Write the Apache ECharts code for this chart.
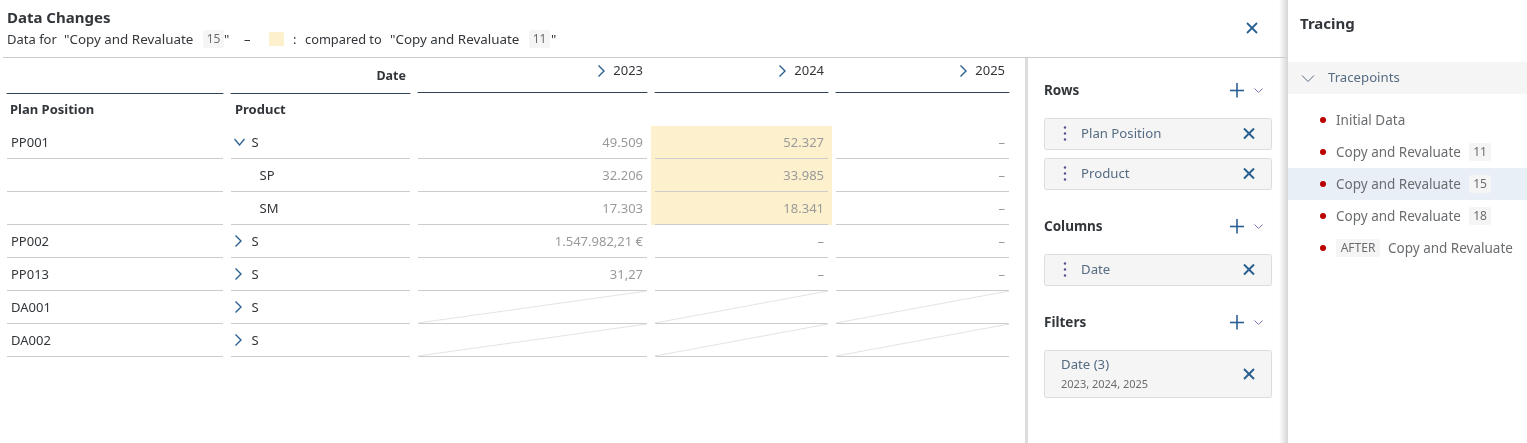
<!DOCTYPE html>
<html>
<head>
<meta charset="utf-8">
<style>
    html, body { margin: 0; padding: 0; background: #fff; }
    #chart { width: 1527px; height: 443px; }
</style>
<script src="https://cdn.jsdelivr.net/npm/echarts@6/dist/echarts.min.js"></script>
</head>
<body>
<div id="chart"></div>
<script>
// Table content
const rowIds = ["r1", "r2", "r3", "r4", "r5", "r6", "r7"];
const columnTitles = ["Plan Position", "Product", "2023", "2024", "2025"];
const planPositions = ["PP001", "", "", "PP002", "PP013", "DA001", "DA002"];
const products = ["S", "SP", "SM", "S", "S", "S", "S"];
const expandStates = ["open", "", "", "closed", "closed", "closed", "closed"];
const values2023 = ["49.509", "32.206", "17.303", "1.547.982,21 €", "31,27", null, null];
const values2024 = ["52.327", "33.985", "18.341", "–", "–", null, null];
const values2025 = ["–", "–", "–", "–", "–", null, null];
const changedRows2024 = [0, 1, 2];

// Side panels
const rowFields = ["Plan Position", "Product"];
const columnFields = ["Date"];
const tracepoints = [
    { label: "Initial Data" },
    { label: "Copy and Revaluate", badge: "11" },
    { label: "Copy and Revaluate", badge: "15" },
    { label: "Copy and Revaluate", badge: "18" },
    { label: "Copy and Revaluate", prefix: "AFTER" }
];

// Layout of the table: one grid per column, all sharing the same rows
const columnLayout = [
    { left: 7, width: 216, ruleOffset: 32 },
    { left: 231, width: 179, ruleOffset: 32 },
    { left: 418, width: 229, ruleOffset: 33 },
    { left: 655, width: 173, ruleOffset: 33 },
    { left: 836, width: 173, ruleOffset: 33 }
];
const tableTop = 125;
const rowHeight = 33;

const FONT = "'Noto Sans'";
const TEXT_DARK = "#32363a";
const TEXT_FIELD = "#556b82";
const TEXT_NUMBER = "#9a9a9a";
const RULE = "#cccccc";
const RULE_DARK = "#2f4257";
const ICON = "#2a5f91";
const HIGHLIGHT = "#fdf0cd";

function textEl(x, y, text, opts = {})
{
    return {
        type: "text",
        x,
        y: y + 1,
        z: opts.z || 10,
        style: {
            text,
            font: `${opts.bold ? "bold " : ""}${opts.size || 13}px ${FONT}`,
            fill: opts.color || TEXT_DARK,
            align: opts.align || "left",
            verticalAlign: "middle"
        }
    };
}

function lineEl(points, color, width = 1)
{
    return {
        type: "polyline",
        z: 10,
        shape: { points },
        style: { stroke: color, lineWidth: width, fill: null }
    };
}

function rectEl(x, y, width, height, fill, stroke, radius = 0, z = 1)
{
    return {
        type: "rect",
        z,
        shape: { x, y, width, height, r: radius },
        style: { fill, stroke: stroke || null, lineWidth: 1 }
    };
}

function chevronRight(x, y, color = ICON, size = 5.5)
{
    return lineEl([[x, y - size], [x + size, y], [x, y + size]], color, 1.4);
}

function chevronDown(x, y, color = ICON, half = 5, width = 1)
{
    return lineEl([[x - half, y - half / 2], [x, y + half / 2], [x + half, y - half / 2]], color, width);
}

function crossEl(x, y)
{
    return [
        lineEl([[x - 5, y - 5], [x + 5, y + 5]], ICON, 2),
        lineEl([[x - 5, y + 5], [x + 5, y - 5]], ICON, 2)
    ];
}

function badgeEl(x, y, width, text)
{
    return [
        rectEl(x, y - 9, width, 18, "#f5f5f5", null, 2, 5),
        textEl(x + width / 2, y, text, { size: 12, color: "#6a6d70", align: "center", z: 11 })
    ];
}

function sectionHeader(y, title)
{
    return [
        textEl(1044, y, title, { bold: true, size: 13.5 }),
        lineEl([[1230, y + 0.5], [1244, y + 0.5]], ICON, 1.6),
        lineEl([[1237, y - 7], [1237, y + 7.5]], ICON, 1.6),
        chevronDown(1258.5, y + 0.5, "#7d6fb5", 4)
    ];
}

function fieldPill(y, label)
{
    const dots = [-6, 0, 6].map((d) => ({
        type: "circle",
        z: 10,
        shape: { cx: 1065, cy: y + 15.5 + d, r: 1.2 },
        style: { fill: "#5b4f8f" }
    }));
    return [
        rectEl(1044.5, y + 0.5, 227, 31, "#f5f5f5", "#dddddd", 2),
        textEl(1081, y + 15.5, label, { color: TEXT_FIELD, size: 13.2 }),
        ...dots,
        ...crossEl(1249, y + 15.5)
    ];
}

// Everything around the table: title, field panel and tracing panel
function buildChrome()
{
    const els = [];

    // Title block
    els.push(textEl(7, 18, "Data Changes", { bold: true, size: 15 }));
    els.push(textEl(7, 39, "Data for", { size: 13 }));
    els.push(textEl(64, 39, "\"Copy and Revaluate", { size: 13.4 }));
    els.push(...badgeEl(203, 39, 21, "15"));
    els.push(textEl(224, 39, "\"", { size: 13 }));
    els.push(textEl(244, 39, "–", { size: 13 }));
    els.push(rectEl(269, 32, 15, 14, HIGHLIGHT));
    els.push(textEl(293, 39, ":", { size: 13 }));
    els.push(textEl(305, 39, "compared to", { size: 12.8 }));
    els.push(textEl(390, 39, "\"Copy and Revaluate", { size: 13.4 }));
    els.push(...badgeEl(529, 39, 21, "11"));
    els.push(textEl(551, 39, "\"", { size: 13 }));
    els.push(lineEl([[1247, 23], [1257, 33]], ICON, 1.8));
    els.push(lineEl([[1247, 33], [1257, 23]], ICON, 1.8));

    // Separators
    els.push(lineEl([[3, 57.5], [1287, 57.5]], RULE));
    els.push(rectEl(1025, 58, 3, 385, "#dddddd"));

    // Table header decoration
    els.push(textEl(406, 75, "Date", { bold: true, size: 12.5, align: "right" }));
    els.push(chevronRight(598.5, 71));
    els.push(chevronRight(779.5, 71));
    els.push(chevronRight(960.5, 71));

    // Field panel
    els.push(...sectionHeader(90, "Rows"));
    rowFields.forEach((field, i) => els.push(...fieldPill(118 + i * 40, field)));
    els.push(...sectionHeader(226, "Columns"));
    columnFields.forEach((field, i) => els.push(...fieldPill(254 + i * 40, field)));
    els.push(...sectionHeader(322, "Filters"));
    els.push(rectEl(1044.5, 350.5, 227, 47, "#f5f5f5", "#dddddd", 2));
    els.push(textEl(1061, 364, "Date (3)", { color: TEXT_FIELD, size: 13.2 }));
    els.push(textEl(1061, 384, "2023, 2024, 2025", { size: 11, color: "#6a6d70" }));
    els.push(...crossEl(1249, 374));

    // Tracing panel
    els.push({
        type: "rect",
        z: 2,
        shape: { x: 1279, y: 0, width: 9, height: 443 },
        style: {
            fill: new echarts.graphic.LinearGradient(0, 0, 1, 0, [
                { offset: 0, color: "rgba(0,0,0,0)" },
                { offset: 1, color: "rgba(0,0,0,0.16)" }
            ])
        }
    });
    els.push(textEl(1300, 24, "Tracing", { bold: true, size: 15 }));
    els.push(rectEl(1288, 62, 239, 32, "#f5f5f5"));
    els.push(chevronDown(1308, 78.5, "#556b82", 6));
    els.push(textEl(1328, 77.5, "Tracepoints", { color: TEXT_FIELD, size: 13.2 }));
    els.push(rectEl(1288, 168, 239, 32, "#e8eff6"));

    tracepoints.forEach((point, i) =>
    {
        const y = 120 + i * 32;
        els.push({
            type: "circle",
            z: 10,
            shape: { cx: 1323, cy: y, r: 3 },
            style: { fill: "#bb0000" }
        });

        let x = 1336;
        if (point.prefix)
        {
            els.push(...badgeEl(x, y, 44, point.prefix));
            x = 1388;
        }
        els.push(textEl(x, y, point.label, { color: "#6a6d70", size: 13.5 }));
        if (point.badge)
        {
            els.push(...badgeEl(1469, y, 22, point.badge));
        }
    });

    return els;
}

// One text per row, aligned on the left or on the right of its cell
function renderCellText(values, colour, align, inset)
{
    return (params, api) =>
    {
        const row = api.value(1);
        const text = values[row];
        if (!text)
        {
            return null;
        }
        const { x, width } = params.coordSys;
        return {
            type: "text",
            x: align === "right" ? x + width - inset : x + inset,
            y: api.coord([0, row])[1] + 1.5,
            style: {
                text,
                font: `13px ${FONT}`,
                fill: colour,
                align,
                verticalAlign: "middle"
            }
        };
    };
}

// Product column: indentation and expand chevron depend on the row
function renderProduct(params, api)
{
    const row = api.value(1);
    const x = params.coordSys.x;
    const y = api.coord([0, row])[1] + 0.5;
    const state = expandStates[row];
    const children = [{
        type: "text",
        x: x + (state ? 20.5 : 28.5),
        y: y + 1,
        style: { text: products[row], font: `13px ${FONT}`, fill: TEXT_DARK, verticalAlign: "middle" }
    }];

    if (state === "open")
    {
        children.push({
            type: "polyline",
            shape: { points: [[x + 3.5, y - 3], [x + 8.5, y + 3], [x + 13.5, y - 3]] },
            style: { stroke: ICON, lineWidth: 1.3, fill: null }
        });
    }
    else if (state === "closed")
    {
        children.push({
            type: "polyline",
            shape: { points: [[x + 4.5, y - 5.5], [x + 10, y], [x + 4.5, y + 5.5]] },
            style: { stroke: ICON, lineWidth: 1.4, fill: null }
        });
    }
    return { type: "group", children };
}

// Cells without value are struck by a thin diagonal
function renderEmptyCell(values)
{
    return (params, api) =>
    {
        const row = api.value(1);
        if (values[row] !== null)
        {
            return null;
        }
        const { x, width } = params.coordSys;
        const h = api.size([1, 1])[1];
        const y = api.coord([0, row])[1];
        return {
            type: "line",
            shape: { x1: x, y1: y + h / 2, x2: x + width, y2: y - h / 2 + 1 },
            style: { stroke: "#e4e4e4", lineWidth: 1 }
        };
    };
}

// Changed cells overflow their column slightly, the rule stays on top
function renderHighlight(params, api)
{
    const { x, width } = params.coordSys;
    const h = api.size([1, 1])[1];
    const y = api.coord([0, api.value(1)])[1];
    return {
        type: "rect",
        shape: { x: x - 4, y: y - h / 2 + 1, width: width + 8, height: h },
        style: { fill: HIGHLIGHT }
    };
}

const rowData = rowIds.map((id, row) => [0, row]);

function customSeries(gridIndex, renderItem, z, data = rowData)
{
    return {
        type: "custom",
        xAxisIndex: gridIndex,
        yAxisIndex: gridIndex,
        coordinateSystem: "cartesian2d",
        silent: true,
        clip: false,
        z,
        renderItem,
        data
    };
}

const option = {
    animation: false,
    backgroundColor: "#ffffff",
    textStyle: { fontFamily: FONT },
    graphic: { elements: buildChrome() },
    grid: columnLayout.map(({ left, width }) => ({
        left,
        width,
        top: tableTop,
        height: rowHeight * rowIds.length,
        containLabel: false
    })),
    xAxis: columnLayout.map(({ ruleOffset }, i) => ({
        type: "category",
        gridIndex: i,
        position: "top",
        offset: ruleOffset,
        data: [columnTitles[i]],
        name: columnTitles[i],
        nameLocation: i < 2 ? "start" : "end",
        nameGap: i === 0 ? -3 : -4,
        nameMoveOverlap: false,
        nameTextStyle: i < 2
            ? { align: "left", verticalAlign: "top", lineHeight: 34, fontFamily: FONT, fontWeight: "bold", fontSize: 13, color: TEXT_DARK }
            : { align: "right", verticalAlign: "bottom", lineHeight: 41, fontFamily: FONT, fontSize: 13, color: TEXT_DARK },
        axisLine: { show: true, onZero: false, lineStyle: { color: RULE_DARK, width: 1 } },
        axisTick: { show: false },
        axisLabel: { show: false },
        splitLine: { show: false }
    })),
    yAxis: columnLayout.map((column, i) => ({
        type: "category",
        gridIndex: i,
        inverse: true,
        data: rowIds,
        z: 3,
        axisLine: { show: false },
        axisTick: { show: false },
        axisLabel: { show: false },
        splitLine: {
            show: true,
            showMinLine: false,
            interval: 0,
            lineStyle: { color: RULE, width: 1 }
        }
    })),
    series: [
        customSeries(3, renderHighlight, 1, changedRows2024.map((row) => [0, row])),
        customSeries(0, renderCellText(planPositions, TEXT_DARK, "left", 4), 5),
        customSeries(1, renderProduct, 5),
        customSeries(2, renderEmptyCell(values2023), 5),
        customSeries(3, renderEmptyCell(values2024), 5),
        customSeries(4, renderEmptyCell(values2025), 5),
        customSeries(2, renderCellText(values2023, TEXT_NUMBER, "right", 4), 5),
        customSeries(3, renderCellText(values2024, TEXT_NUMBER, "right", 4), 5),
        customSeries(4, renderCellText(values2025, TEXT_NUMBER, "right", 4), 5)
    ]
};

const chart = echarts.init(document.getElementById("chart"));
chart.setOption(option);
</script>
</body>
</html>
